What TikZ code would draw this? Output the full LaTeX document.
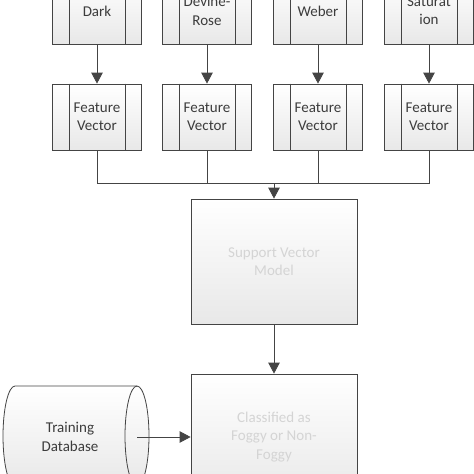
\documentclass[tikz,border=0pt]{standalone}
\usepackage{fontspec}
\setmainfont{Carlito}
\usetikzlibrary{arrows.meta}
\definecolor{ln}{HTML}{444444}
\definecolor{tx}{HTML}{3C3C3C}
\definecolor{faint}{HTML}{D4D4D4}
\tikzset{
  box/.style={draw=ln, line width=0.8pt, top color=white, bottom color=black!9,
    text=tx, align=center, font=\fontsize{15}{18.3}\selectfont, inner sep=0pt},
  proc/.style={box, minimum width=89pt, minimum height=66pt},
  bigbox/.style={box, minimum width=166pt, minimum height=125pt, text=faint},
  conn/.style={draw=ln, line width=0.8pt},
  arr/.style={conn, -{Triangle[length=11pt,width=11.5pt]}},
}
\begin{document}
\begin{tikzpicture}[x=1pt,y=-1pt]
\useasboundingbox (0,0) rectangle (474,474);
\clip (0,0) rectangle (474,474);
\fill[white] (0,0) rectangle (474,474);
% top row
\foreach \n/\x/\t in {1/97/Dark, 2/207/{Devine-\\Rose}, 3/318/Weber, 4/429/{Saturat\\ion}} {
  \node[proc] (t\n) at (\x,11) {\t};
  \draw[conn] ([xshift=17pt]t\n.north west) -- ([xshift=17pt]t\n.south west);
  \draw[conn] ([xshift=-17pt]t\n.north east) -- ([xshift=-17pt]t\n.south east);
  \node[proc] (f\n) at (\x,117) {Feature\\Vector};
  \draw[conn] ([xshift=17pt]f\n.north west) -- ([xshift=17pt]f\n.south west);
  \draw[conn] ([xshift=-17pt]f\n.north east) -- ([xshift=-17pt]f\n.south east);
  \draw[arr] (t\n.south) -- (f\n.north);
}
\node[bigbox] (svm) at (274,261.5) {Support Vector\\Model};
\node[bigbox, minimum height=126pt] (cls) at (274,437) {Classified as\\Foggy or Non-\\Foggy};
\coordinate (j) at (274,183);
\draw[conn] (f1.south) |- (f4.south |- j) -- (f4.south);
\draw[conn] (f2.south) -- (f2.south |- j);
\draw[conn] (f3.south) -- (f3.south |- j);
\draw[arr] (j) -- (svm.north);
\draw[arr] (svm.south) -- (cls.north);
% training database (direct data shape)
\path[draw=ln, line width=0.8pt, top color=white, bottom color=black!9]
  (15,386) -- (137,386)
  .. controls (143.6,386) and (149,408.4) .. (149,436)
  .. controls (149,463.6) and (143.6,486) .. (137,486)
  -- (15,486)
  .. controls (8.4,486) and (3,463.6) .. (3,436)
  .. controls (3,408.4) and (8.4,386) .. (15,386) -- cycle;
\draw[conn] (137,386) .. controls (130.4,386) and (125,408.4) .. (125,436)
  .. controls (125,463.6) and (130.4,486) .. (137,486);
\node[text=tx, align=center, font=\fontsize{15}{18.3}\selectfont] (db) at (70,437) {Training\\Database};
\coordinate (dbr) at (137,437);
\draw[arr] (dbr) -- (cls.west |- dbr);
\end{tikzpicture}
\end{document}
